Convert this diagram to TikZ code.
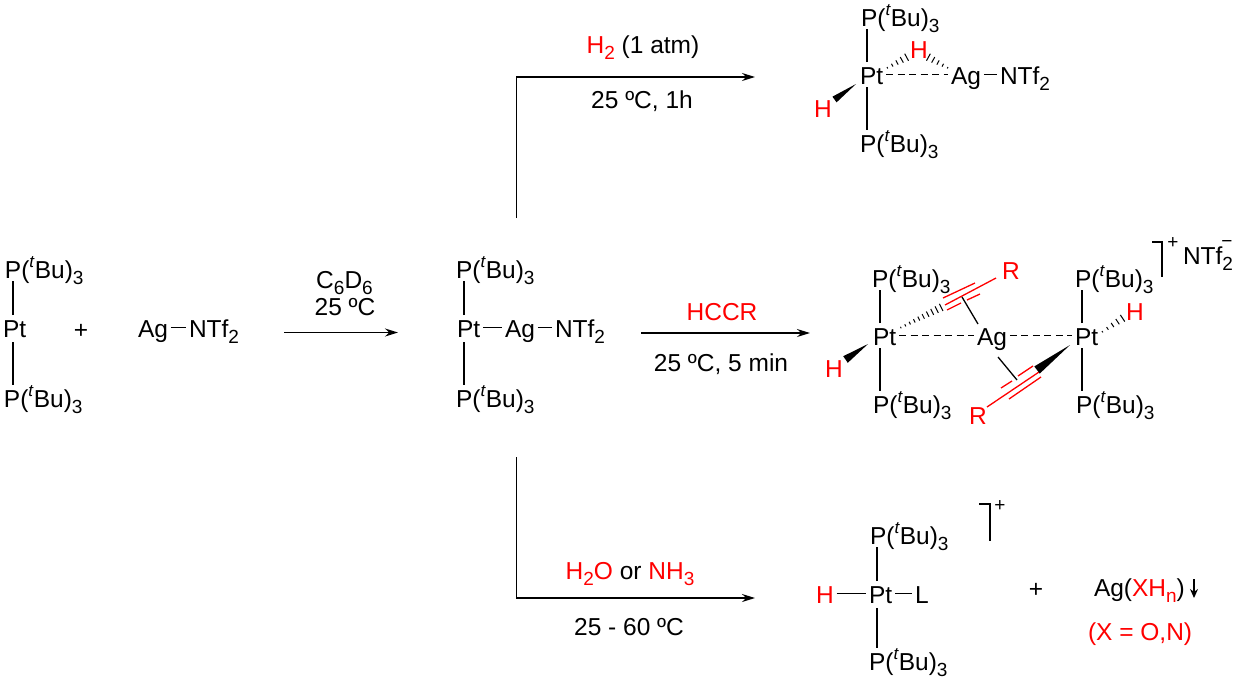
\documentclass[tikz,border=0pt]{standalone}
\usepackage{fontspec}
\setmainfont{Liberation Sans}
\usetikzlibrary{calc,arrows.meta}
\definecolor{hl}{RGB}{255,0,0}
\newcommand{\Sb}[1]{\raisebox{-0.25em}{\fontsize{19}{19}\selectfont #1}}
\newcommand{\Sp}[1]{\raisebox{0.42em}{\fontsize{17}{17}\selectfont #1}}
\newcommand{\PB}{P(\Sp{\textit{t}}Bu)\Sb{3}}
\newcommand{\NT}{NTf\Sb{2}}
\newcommand{\hashb}[4]{\foreach \i in {0,...,#4}{%
  \pgfmathsetmacro\tt{0.02+0.96*\i/#4}\pgfmathsetmacro\ww{#3*(0.2+0.8*\i/#4)}%
  \draw[line width=1pt] ($(#1)!\tt!(#2)!\ww pt!90:(#2)$) -- ($(#1)!\tt!(#2)!\ww pt!-90:(#2)$);}}
\newcommand{\wedgeb}[3]{\fill ($(#2)!#3 pt!90:(#1)$) -- (#1) -- ($(#2)!#3 pt!-90:(#1)$) -- cycle;}
\tikzset{
 x=1pt,y=-1pt,
 tx/.style={inner sep=0pt,outer sep=3pt,anchor=base west,xshift=-3pt,text height=19pt,text depth=0pt,font=\fontsize{24.5}{24.5}\selectfont},
 ct/.style={inner sep=0pt,outer sep=0pt,anchor=base,font=\fontsize{24.5}{24.5}\selectfont},
 sm/.style={inner sep=0pt,anchor=center,font=\fontsize{19}{19}\selectfont},
 red/.style={text=hl},
 bond/.style={line width=1.3pt,black},
 rbond/.style={line width=1.3pt,hl},
 dbond/.style={line width=1.3pt,black,dash pattern=on 7pt off 4.5pt},
 arr/.style={line width=1.5pt,-{Stealth[length=13pt,width=8pt]}},
}
\begin{document}
\begin{tikzpicture}
\useasboundingbox (0,0) rectangle (1236,681);
% reactant
\node[tx] (a1) at (5,278) {\PB};
\node[tx] (a2) at (3,337) {Pt};
\node[tx] (a3) at (4,407) {\PB};
\coordinate (a2t) at ($(a2.north)+(-1.5,0)$);
\coordinate (a2b) at ($(a2.south)+(-1.5,2)$);
\draw[bond] (a2t) -- (a2t |- a1.south);
\draw[bond] (a2b) -- (a2b |- a3.north);
\node[ct] (plus1) at (81,338) {+};
\node[tx] (b1) at (138,337) {Ag};
\node[tx] (b2) at (189,337) {\NT};
\draw[bond] (b1.east) -- (b2.west);
% arrow 1
\node[ct] (c1) at (344.5,288) {C\Sb{6}D\Sb{6}};
\node[ct] (c2) at (345,315) {25 ºC};
\coordinate (c3) at (284,332.5);
\coordinate (c4) at (398,332.5);
\draw[arr] (c3) -- (c4);
% intermediate
\node[tx] (m1) at (456,278) {\PB};
\node[tx] (m2) at (457,337) {Pt};
\node[tx] (m3) at (456,407) {\PB};
\node[tx] (m4) at (505,337) {Ag};
\node[tx] (m5) at (555,337) {\NT};
\coordinate (m2t) at ($(m2.north)+(-4.5,0)$);
\coordinate (m2b) at ($(m2.south)+(-4.5,2)$);
\draw[bond] (m2t) -- (m2t |- m1.south);
\draw[bond] (m2b) -- (m2b |- m3.north);
\draw[bond] (m2.east) -- (m4.west);
\draw[bond] (m4.east) -- (m5.west);
% top branch
\coordinate (t1) at (516.5,218);
\coordinate (t2) at (516.5,77);
\coordinate (t3) at (755,77);
\draw[arr] (t1) -- (t2) -- (t3);
\node[ct] (t4) at (643,53) {\textcolor{hl}{H\Sb{2}} (1 atm)};
\node[ct] (t5) at (642,108) {25 ºC, 1h};
% middle branch
\coordinate (h1) at (641,333);
\coordinate (h2) at (810,333);
\draw[arr] (h1) -- (h2);
\node[ct,red] (h3) at (722,320) {HCCR};
\node[ct] (h4) at (721,371) {25 ºC, 5 min};
% bottom branch
\coordinate (u1) at (516.5,457);
\coordinate (u2) at (516.5,598);
\coordinate (u3) at (755,598);
\draw[arr] (u1) -- (u2) -- (u3);
\node[ct] (u4) at (630,579) {\textcolor{hl}{H\Sb{2}O} or \textcolor{hl}{NH\Sb{3}}};
\node[ct] (u5) at (629,635) {25 - 60 ºC};
% top product
\node[tx] (p1) at (861,26) {\PB};
\node[tx] (p2) at (860,84) {Pt};
\node[tx] (p3) at (860,152) {\PB};
\node[tx,red] (p4) at (910,58) {H};
\node[tx,red] (p5) at (814,117) {H};
\node[tx] (p6) at (951,84) {Ag};
\node[tx] (p7) at (1000,84) {\NT};
\coordinate (p2t) at ($(p2.north)+(-4.5,0)$);
\coordinate (p2b) at ($(p2.south)+(-4.5,0)$);
\draw[bond] (p2t) -- (p2t |- p1.south);
\draw[bond] (p2b) -- (p2b |- p3.north);
\draw[dbond] (p2.east) -- (p6.west);
\draw[bond] (p6.east) -- (p7.west);
\coordinate (p8) at (887,68);
\coordinate (p9) at (907,57);
\coordinate (p10) at (948,68);
\coordinate (p11) at (928,57);
\hashb{p8}{p9}{4}{4}
\hashb{p10}{p11}{4}{4}
\coordinate (p12) at (856,84);
\coordinate (p13) at (834.5,99.5);
\wedgeb{p12}{p13}{3.5}
% middle product
\node[tx] (q1) at (872,287) {\PB};
\node[tx] (q2) at (873,345) {Pt};
\node[tx] (q3) at (873,413) {\PB};
\node[tx,red] (q4) at (825,377) {H};
\node[tx] (q5) at (977,345) {Ag};
\node[tx] (q6) at (1075,345) {Pt};
\node[tx] (q7) at (1075,287) {\PB};
\node[tx] (q8) at (1076,413) {\PB};
\node[tx,red] (q9) at (1126,320) {H};
\node[tx,red] (q10) at (1002,279) {R};
\node[tx,red] (q11) at (969,424) {R};
\node[tx] (q12) at (1183,264) {\NT};
\node[sm] (q13) at (1173,243) {+};
\node[sm] (q14) at (1227,244) {\textminus};
\coordinate (q15) at (1152,242);
\coordinate (q16) at (1162,242);
\coordinate (q17) at (1162,277);
\draw[bond] (q15) -- (q16) -- (q17);
\coordinate (q2t) at ($(q2.north)+(-4.5,0)$);
\coordinate (q2b) at ($(q2.south)+(-4.5,0)$);
\coordinate (q6t) at ($(q6.north)+(-4.5,0)$);
\coordinate (q6b) at ($(q6.south)+(-4.5,0)$);
\draw[bond] (q2t) -- (q2t |- q1.south);
\draw[bond] (q2b) -- (q2b |- q3.north);
\draw[bond] (q6t) -- (q6t |- q7.south);
\draw[bond] (q6b) -- (q6b |- q8.north);
\draw[dbond] (q2.east) -- (q5.west);
\draw[dbond] (q5.east) -- (q6.west);
\coordinate (q18) at (900,328);
\coordinate (q19) at (942,307);
\hashb{q18}{q19}{4}{9}
\coordinate (q20) at (1102,332);
\coordinate (q21) at (1123,318);
\hashb{q20}{q21}{4}{4}
\coordinate (q22) at (868,344);
\coordinate (q23) at (845.5,359.5);
\wedgeb{q22}{q23}{4}
% alkyne 1
\coordinate (k1) at (943,298);
\coordinate (k2) at (975,283);
\coordinate (k3) at (945,305);
\coordinate (k4) at (996,278);
\coordinate (k5) at (947,310);
\coordinate (k6) at (961,303);
\coordinate (k7) at (967,300);
\coordinate (k8) at (980,294);
\coordinate (k9) at (962,297);
\coordinate (k10) at (978,324);
\draw[rbond] (k1) -- (k2);
\draw[rbond] (k3) -- (k4);
\draw[rbond] (k5) -- (k6);
\draw[rbond] (k7) -- (k8);
\draw[bond] (k9) -- (k10);
% alkyne 2
\coordinate (n1) at (1001,388);
\coordinate (n2) at (1012,381);
\coordinate (n3) at (1018,376);
\coordinate (n4) at (1033,366);
\coordinate (n5) at (987,407);
\coordinate (n6) at (1039,372);
\coordinate (n7) at (1009,399);
\coordinate (n8) at (1041,377);
\coordinate (n9) at (1017,380);
\coordinate (n10) at (998,357);
\coordinate (n11) at (1070,345);
\coordinate (n12) at (1037,370);
\draw[rbond] (n1) -- (n2);
\draw[rbond] (n3) -- (n4);
\draw[rbond] (n5) -- (n6);
\draw[rbond] (n7) -- (n8);
\draw[bond] (n9) -- (n10);
\wedgeb{n11}{n12}{4.5}
% bottom product
\node[tx] (r1) at (870,544) {\PB};
\node[tx] (r2) at (869,603) {Pt};
\node[tx] (r3) at (869,670) {\PB};
\node[tx,red] (r4) at (816,603) {H};
\node[tx] (r5) at (915,603) {L};
\coordinate (r2t) at ($(r2.north)+(-3.5,0)$);
\coordinate (r2b) at ($(r2.south)+(-3.5,2)$);
\draw[bond] (r4.east) -- (r2.west);
\draw[bond] (r2.east) -- (r5.west);
\draw[bond] (r2t) -- (r2t |- r1.south);
\draw[bond] (r2b) -- (r2b |- r3.north);
\coordinate (r6) at (979,504);
\coordinate (r7) at (990,504);
\coordinate (r8) at (990,541);
\draw[bond] (r6) -- (r7) -- (r8);
\node[sm] (r9) at (1000,506) {+};
\node[ct] (r10) at (1036,597) {+};
\node[tx] (r11) at (1094,596) {Ag(\textcolor{hl}{XH\Sb{n}})};
\coordinate (r12) at (1194,579);
\coordinate (r13) at (1194,598);
\draw[line width=1.4pt,-{Stealth[length=9pt,width=8pt]}] (r12) -- (r13);
\node[tx,red] (r14) at (1088,640) {(X = O,N)};
\end{tikzpicture}
\end{document}
